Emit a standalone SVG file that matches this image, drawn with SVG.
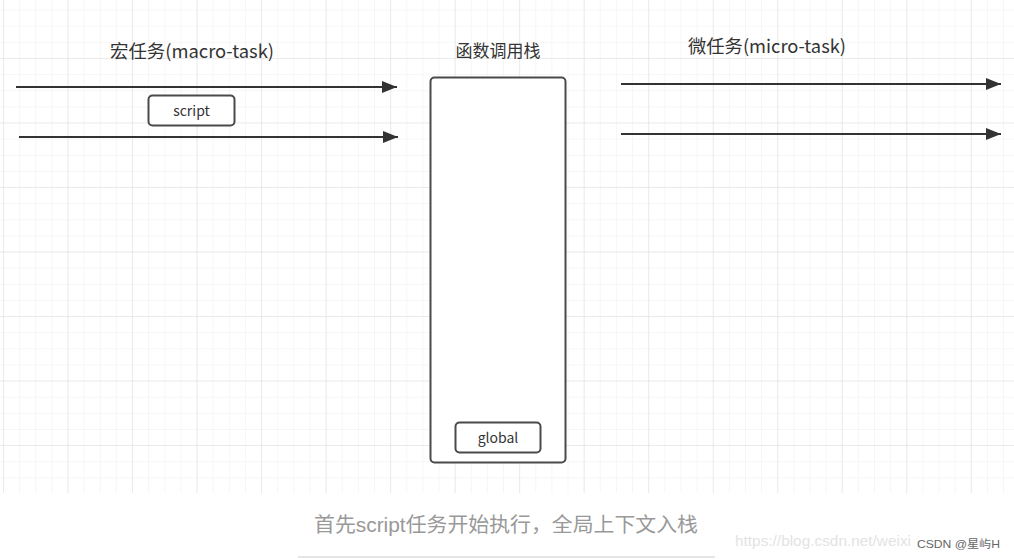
<svg xmlns="http://www.w3.org/2000/svg" width="1014" height="559" viewBox="0 0 1014 559">
<defs>
<pattern id="minor" x="3" y="9.6" width="16.13" height="16.13" patternUnits="userSpaceOnUse">
<path d="M0 0H16.13M0 0V16.13" fill="none" stroke="#ededed" stroke-width="1"/>
</pattern>
<pattern id="major" x="3" y="-6.6" width="64.52" height="64.52" patternUnits="userSpaceOnUse">
<path d="M0 0H64.52M0 0V64.52" fill="none" stroke="#dedede" stroke-width="1"/>
</pattern>
<marker id="arr" viewBox="0 0 15 12" refX="15" refY="6" markerWidth="15" markerHeight="12" markerUnits="userSpaceOnUse" orient="auto">
<path d="M0 0L15 6L0 12Z" fill="#333"/>
</marker>
</defs>
<style>
.t{font-family:"Noto Sans CJK SC","Liberation Sans",sans-serif;fill:#333;text-anchor:middle}
.box{fill:#fff;stroke:#4a4a4a;stroke-width:2}
.ln{stroke:#333;stroke-width:2;fill:none}
</style>
<rect width="1014" height="559" fill="#fff"/>
<rect x="0" y="0" width="1014" height="493" fill="url(#minor)"/>
<rect x="0" y="0" width="1014" height="493" fill="url(#major)"/>
<g id="labels">
<text class="t" x="192" y="58" font-size="18" textLength="164" lengthAdjust="spacingAndGlyphs">宏任务(macro-task)</text>
<text class="t" x="498" y="57" font-size="17" textLength="85" lengthAdjust="spacingAndGlyphs">函数调用栈</text>
<text class="t" x="767" y="53" font-size="18" textLength="158" lengthAdjust="spacingAndGlyphs">微任务(micro-task)</text>
</g>
<g id="connectors">
<line class="ln" x1="16" y1="87" x2="397" y2="87" marker-end="url(#arr)"/>
<line class="ln" x1="19" y1="137" x2="398" y2="137" marker-end="url(#arr)"/>
<line class="ln" x1="621" y1="84" x2="1001" y2="84" marker-end="url(#arr)"/>
<line class="ln" x1="621" y1="134" x2="1001" y2="134" marker-end="url(#arr)"/>
</g>
<g id="script">
<rect class="box" x="148.5" y="95.5" width="86" height="30" rx="4"/>
<text class="t" x="191.5" y="116" font-size="14">script</text>
</g>
<g id="stack">
<rect class="box" x="430.5" y="77.5" width="135" height="385" rx="4" stroke-width="2.5"/>
</g>
<g id="global">
<rect class="box" x="455.5" y="422.5" width="85" height="30" rx="4"/>
<text class="t" x="498" y="443" font-size="14">global</text>
</g>
<g id="caption">
<text x="314" y="532" font-size="20" textLength="384" lengthAdjust="spacingAndGlyphs" style="font-family:'Liberation Sans','Noto Sans CJK SC',sans-serif;fill:#999">首先script任务开始执行，全局上下文入栈</text>
<line x1="298" y1="557" x2="715" y2="557" stroke="#ddd" stroke-width="1.5"/>
<text x="735" y="546" font-size="15" textLength="176" lengthAdjust="spacingAndGlyphs" style="font-family:'Liberation Sans',sans-serif;fill:#e3e3e3">https://blog.csdn.net/weixi</text>
<text x="917" y="548" font-size="11.5" textLength="83" lengthAdjust="spacingAndGlyphs" style="font-family:'Liberation Sans','Noto Sans CJK SC',sans-serif;fill:#666">CSDN @星屿H</text>
</g>
</svg>
